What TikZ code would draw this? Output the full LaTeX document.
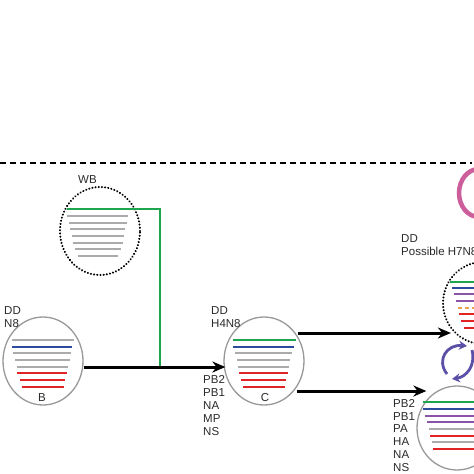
\documentclass[tikz,border=0pt]{standalone}
\usepackage{fontspec}
\setmainfont{Liberation Sans}
\usetikzlibrary{shapes.geometric,arrows.meta}
\definecolor{lgreen}{HTML}{1DA64E}
\definecolor{lblue}{HTML}{2E4C9E}
\definecolor{lgray}{HTML}{ABABAB}
\definecolor{lred}{HTML}{E02424}
\definecolor{lpurple}{HTML}{8A55A8}
\definecolor{lorange}{HTML}{E8A24A}
\definecolor{lpink}{HTML}{CC5E9C}
\definecolor{cyc}{HTML}{5A50A8}
\definecolor{txt}{HTML}{2A2A2A}
\definecolor{rim}{HTML}{999999}
\newcommand\bandline[4]{\draw[#1] (#2,#4) -- (#3,#4);}
\begin{document}
\begin{tikzpicture}[x=1pt,y=-1pt,
  lbl/.style={anchor=base west,inner sep=0pt,text=txt,font=\fontsize{11.5}{13}\selectfont},
  clbl/.style={anchor=base,inner sep=0pt,text=txt,font=\fontsize{11.5}{13}\selectfont},
  cell/.style={ellipse,draw=rim,line width=1.3pt,inner sep=0pt,minimum width=80pt,minimum height=88pt},
  dcell/.style={ellipse,draw=black,line width=2.2pt,dash pattern=on 0.1pt off 3.1pt,line cap=round,inner sep=0pt,minimum width=80pt,minimum height=88pt},
  gl/.style={lgray,line width=2pt},
  bl/.style={lblue,line width=2pt},
  gn/.style={lgreen,line width=2pt},
  rd/.style={lred,line width=2pt},
  pu/.style={lpurple,line width=2pt},
  og/.style={lorange,line width=2pt,dash pattern=on 4pt off 3pt},
  arr/.style={line width=3pt,-{Stealth[length=13pt,width=11pt]}},
  cycarr/.style={cyc,line width=2.8pt,-{Stealth[length=8pt,width=9pt]}}]
\useasboundingbox (0,0) rectangle (474,474);
\clip (0,0) rectangle (474,474);
\fill[white] (0,0) rectangle (474,474);

% dashed separator
\draw[line width=1.2pt,dash pattern=on 6pt off 4pt] (0,163) -- (472,163);
% pink arc
\draw[lpink,line width=4.5pt] (479,193) ellipse [x radius=20pt,y radius=24pt];

% WB
\node[lbl] (wbt) at (78,183) {WB};
\node[dcell] (WB) at (100,231) {};
\foreach \y/\a/\b in {216/67/128,223/69/127,229/70/125,236/72/124,243/73/123,249/75/121,256/78/118}
  {\bandline{gl}{\a}{\b}{\y}}

% B
\node[cell] (B) at (43,361) {};
\node[lbl] (bdd) at (4,314) {DD};
\node[lbl] (bn8) at (4,327) {N8};
\node[clbl] (bb) at (42,401) {B};
\bandline{gl}{12}{74}{340}
\bandline{bl}{12}{72}{347}
\bandline{gl}{13}{71}{353}
\bandline{gl}{15}{70}{360}
\bandline{gl}{17}{68}{367}
\bandline{rd}{17}{67}{373}
\bandline{rd}{20}{65}{380}
\bandline{rd}{22}{64}{387}

% C
\node[cell] (C) at (264,361) {};
\node[lbl] (cdd) at (211,314) {DD};
\node[lbl] (ch) at (211,327) {H4N8};
\node[clbl] (cc) at (265,401) {C};
\bandline{gn}{233}{296}{340}
\bandline{bl}{233}{294}{347}
\bandline{gl}{235}{292}{353}
\bandline{gl}{237}{290}{360}
\bandline{gl}{238}{289}{367}
\bandline{rd}{239}{288}{373}
\bandline{rd}{241}{286}{380}
\bandline{rd}{243}{285}{387}
\foreach \t [count=\i] in {PB2,PB1,NA,MP,NS}
  {\node[lbl] (cs\i) at (203,370+13*\i) {\t};}

% D
\node[dcell,minimum height=82pt] (D) at (483,303) {};
\node[lbl] (ddd) at (401,242) {DD};
\node[lbl] (dh) at (401,255) {Possible H7N8};
\bandline{gn}{450}{480}{282}
\bandline{bl}{452}{480}{288}
\bandline{pu}{454}{480}{294}
\bandline{pu}{456}{480}{301}
\bandline{og}{458}{480}{308}
\bandline{rd}{459}{480}{314}
\bandline{rd}{461}{480}{321}
\bandline{rd}{464}{480}{328}

% E
\node[cell,minimum height=84pt] (E) at (457,428) {};
\bandline{gn}{423}{480}{402}
\bandline{bl}{423}{480}{409}
\bandline{pu}{425}{480}{416}
\bandline{pu}{427}{480}{422}
\bandline{gl}{429}{480}{429}
\bandline{rd}{430}{480}{436}
\bandline{gl}{432}{480}{442}
\bandline{rd}{433}{480}{449}
\foreach \t [count=\i] in {PB2,PB1,PA,HA,NA,NS}
  {\node[lbl] (es\i) at (393,394.5+12.8*\i) {\t};}

% connectors
\coordinate (gs) at (67,209);
\coordinate (gj) at (160,367);
\draw[lgreen,line width=2pt] (gs) -| (gj);
\draw[arr] ([yshift=-6pt]B.east) -- ([xshift=2pt,yshift=-6pt]C.west);
\draw[arr] ([xshift=-7pt,yshift=28pt]C.east) -- ([xshift=9pt,yshift=-30pt]D.west);
\draw[arr] ([xshift=-8pt,yshift=-30pt]C.east) -- ([xshift=10pt,yshift=37pt]E.west);

% cycle arrows
\coordinate (c1) at (447,374);
\coordinate (c2) at (467,346);
\coordinate (c3) at (472,350);
\coordinate (c4) at (452,379);
\draw[cycarr] (c1) .. controls (436,360) and (447,344) .. (c2);
\draw[cycarr] (c3) .. controls (476,366) and (466,377) .. (c4);
\end{tikzpicture}
\end{document}
